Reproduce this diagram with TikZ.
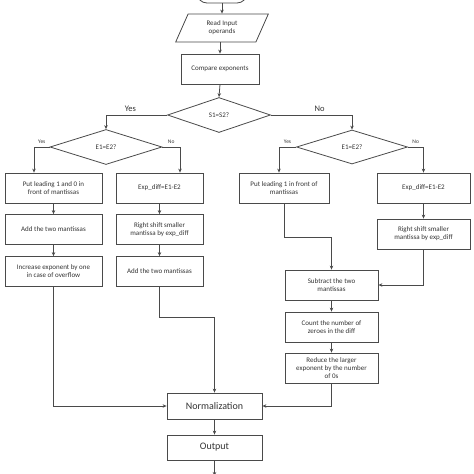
\documentclass[tikz,border=0pt]{standalone}
\usepackage{fontspec}
\setmainfont{Carlito}
\usetikzlibrary{arrows.meta,shapes.geometric}
\definecolor{linegray}{HTML}{4A4A4A}
\definecolor{textgray}{HTML}{333333}
\begin{document}
\begin{tikzpicture}[
x=1pt,
y=-1pt,
every node/.style={font=\fontsize{7}{8}\selectfont,text=textgray},
box/.style={draw=linegray,thick,rectangle,align=center,minimum height=30pt,inner sep=1pt},
cond/.style={draw=linegray,thick,diamond,aspect=3,inner sep=0pt},
arr/.style={draw=linegray,thick,-{Stealth[length=4pt,width=3.5pt]}},
line width=0.8pt
]
\useasboundingbox (0,0) rectangle (474,474);

% start and input
\node[draw=linegray,thick,rounded corners=10pt,minimum width=50pt,minimum height=24pt] (start) at (222,-9) {};
\node[draw=linegray,thick,trapezium,trapezium stretches=true,trapezium left angle=68,trapezium right angle=112,
  minimum width=93pt,minimum height=28pt,align=center,inner sep=0pt] (read) at (222,28) {Read Input\\operands};
\node[box,minimum width=78pt] (comp) at (220,69) {Compare exponents};

% sign check
\node[cond,minimum width=103pt,minimum height=35pt] (signs) at (219,115) {S1=S2?};

% exponent checks
\node[cond,minimum width=112pt,minimum height=35pt] (expL) at (106,147) {E1=E2?};
\node[cond,minimum width=111pt,minimum height=34pt] (expR) at (352,147) {E1=E2?};

% left half, same signs
\node[box,minimum width=97pt] (leadL) at (53.5,188) {Put leading 1 and 0 in\\front of mantissas};
\node[box,minimum width=97pt] (addL) at (53.5,229.5) {Add the two mantissas};
\node[box,minimum width=97pt] (incL) at (53.5,271.5) {Increase exponent by one\\in case of overflow};

\node[box,minimum width=87pt] (diffL) at (159.5,188) {Exp\_diff=E1-E2};
\node[box,minimum width=87pt] (shiftL) at (159.5,229.5) {Right shift smaller\\mantissa by exp\_diff};
\node[box,minimum width=87pt] (addM) at (159.5,271.5) {Add the two mantissas};

% right half, different signs
\node[box,minimum width=90pt] (leadR) at (284,188) {Put leading 1 in front of\\mantissas};
\node[box,minimum width=93pt] (diffR) at (423.5,188) {Exp\_diff=E1-E2};
\node[box,minimum width=93pt] (shiftR) at (423.5,234) {Right shift smaller\\mantissa by exp\_diff};

\node[box,minimum width=93pt] (sub) at (331.5,285) {Subtract the two\\mantissas};
\node[box,minimum width=93pt] (count) at (331.5,327) {Count the number of\\zeroes in the diff};
\node[box,minimum width=93pt] (reduce) at (331.5,368) {Reduce the larger\\exponent by the number\\of 0s};

% output
\node[box,font=\fontsize{10}{12}\selectfont,minimum width=95pt,minimum height=26pt] (norm) at (214.5,406) {Normalization};
\node[box,font=\fontsize{10}{12}\selectfont,minimum width=95pt,minimum height=25pt] (out) at (214.5,447.5) {Output};
\coordinate (end) at (214.5,476);

% connecting lines
\draw[arr] (start.south) -- (read.north -| start.south);
\draw[arr] (read.south -| comp.north) -- (comp.north);
\draw[arr] (comp.south) -- (signs.north);

\draw[arr] (signs.west) -| (expL.north) node[pos=0.3,above,font=\fontsize{8.5}{10}\selectfont] {Yes};
\draw[arr] (signs.east) -| (expR.north) node[pos=0.3,above,font=\fontsize{8.5}{10}\selectfont] {No};

\draw[arr] (expL.west) -| (leadL.north -| 34,0) node[pos=0.25,above,font=\fontsize{5.5}{7}\selectfont] {Yes};
\draw[arr] (expL.east) -| (diffL.north -| 180,0) node[pos=0.25,above,font=\fontsize{5.5}{7}\selectfont] {No};
\draw[arr] (expR.west) -| (leadR.north -| 279,0) node[pos=0.25,above,font=\fontsize{5.5}{7}\selectfont] {Yes};
\draw[arr] (expR.east) -| (diffR.north) node[pos=0.25,above,font=\fontsize{5.5}{7}\selectfont] {No};

\draw[arr] (leadL) -- (addL);
\draw[arr] (addL) -- (incL);
\draw[arr] (diffL) -- (shiftL);
\draw[arr] (shiftL) -- (addM);
\draw[arr] (diffR) -- (shiftR);
\draw[arr] (sub) -- (count);
\draw[arr] (count) -- (reduce);

\draw[arr] (leadR.south) -- ++(0,34) -| (sub.north);
\draw[arr] (shiftR.south) |- (sub.east);

\draw[arr] (incL.south) |- (norm.west);
\draw[arr] (addM.south) -- ++(0,30) -| (norm.north);
\draw[arr] (reduce.south) |- (norm.east);
\draw[arr] (norm) -- (out);
\draw[arr] (out.south) -- (end);

\end{tikzpicture}
\end{document}
